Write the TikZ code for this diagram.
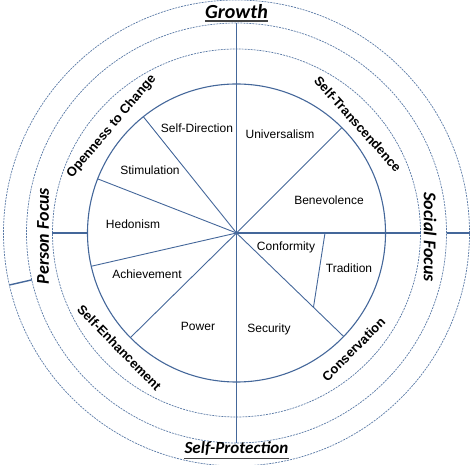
\documentclass[tikz,border=0pt]{standalone}
\usepackage{fontspec}
\setmainfont{Liberation Sans}
\newfontfamily\calfont{Carlito}
\definecolor{linec}{HTML}{44679A}
\definecolor{ringc}{HTML}{5A7AA6}
\definecolor{ulc}{HTML}{444444}
\begin{document}
\begin{tikzpicture}[x=1pt,y=1pt,
  axisline/.style={draw=linec, line width=1.4pt},
  divline/.style={draw=linec, line width=0.9pt},
  innerring/.style={draw=linec, line width=1.1pt},
  ring/.style={draw=ringc, line width=0.7pt, dash pattern=on 2pt off 1pt},
  val/.style={font=\fontsize{12}{14}\selectfont, inner sep=0pt},
  grp/.style={font=\bfseries\fontsize{13}{15}\selectfont, inner sep=0pt},
  focus/.style={font=\calfont\bfseries\itshape\fontsize{18}{21}\selectfont, inner sep=0pt},
  uline/.style={draw=ulc, line width=1.5pt}]
\useasboundingbox (-236.5,-232) rectangle (237.5,233);
\coordinate (O) at (0,0);
% rings
\draw[innerring] (O) circle (149);
\draw[ring] (O) circle (184);
\draw[ring] (O) circle (210);
\draw[ring] (O) circle (233);
% axes
\draw[axisline] (0,210) -- (0,-210);
\draw[axisline] (O) -- (0:184);
\draw[axisline] (180:149) -- (180:184);
\draw[axisline] (0:210) -- (0:233);
\draw[axisline] (192.9:210) -- (192.9:233);
% sector dividers
\foreach \a in {128.7,158.7,192.9,224.6,316,45}
  \draw[divline] (O) -- (\a:149);
\draw[divline] (0:88.5) -- (-44:107);
% values
\node[val] (sd) at (-39.5,105) {Self-Direction};
\node[val] (st) at (-86.5,63) {Stimulation};
\node[val] (he) at (-103.5,9) {Hedonism};
\node[val] (un) at (43.5,99) {Universalism};
\node[val] (be) at (92.5,33) {Benevolence};
\node[val] (ac) at (-89.5,-41) {Achievement};
\node[val] (po) at (-38.5,-93) {Power};
\node[val] (co) at (49.5,-14) {Conformity};
\node[val] (tr) at (112.5,-35) {Tradition};
\node[val] (se) at (32.5,-96) {Security};
% higher-order groups
\node[grp, rotate=49.6] (oc) at (139.6:164) {Openness to Change};
\node[grp, rotate=-48.1] (stx) at (41.9:163) {Self-Transcendence};
\node[grp, rotate=-45.6] (sen) at (224.4:164) {Self-Enhancement};
\node[grp, rotate=45.2] (cons) at (-44.8:165) {Conservation};
% focus labels
\node[focus, font=\calfont\bfseries\itshape\fontsize{20}{22}\selectfont] (gr) at (0,221.5) {Growth};
\draw[uline] ([yshift=-2pt]gr.south west) -- ([yshift=-2pt]gr.south east);
\node[focus, font=\calfont\bfseries\itshape\fontsize{17}{20}\selectfont] (sp) at (0,-216) {Self-Protection};
\draw[uline] ([yshift=-2.5pt]sp.south west) -- ([yshift=-2.5pt]sp.south east);
\node[focus, rotate=90] (pf) at (-193.5,-3) {Person Focus};
\node[focus, rotate=-90] (sf) at (193.5,-4) {Social Focus};
\end{tikzpicture}
\end{document}
